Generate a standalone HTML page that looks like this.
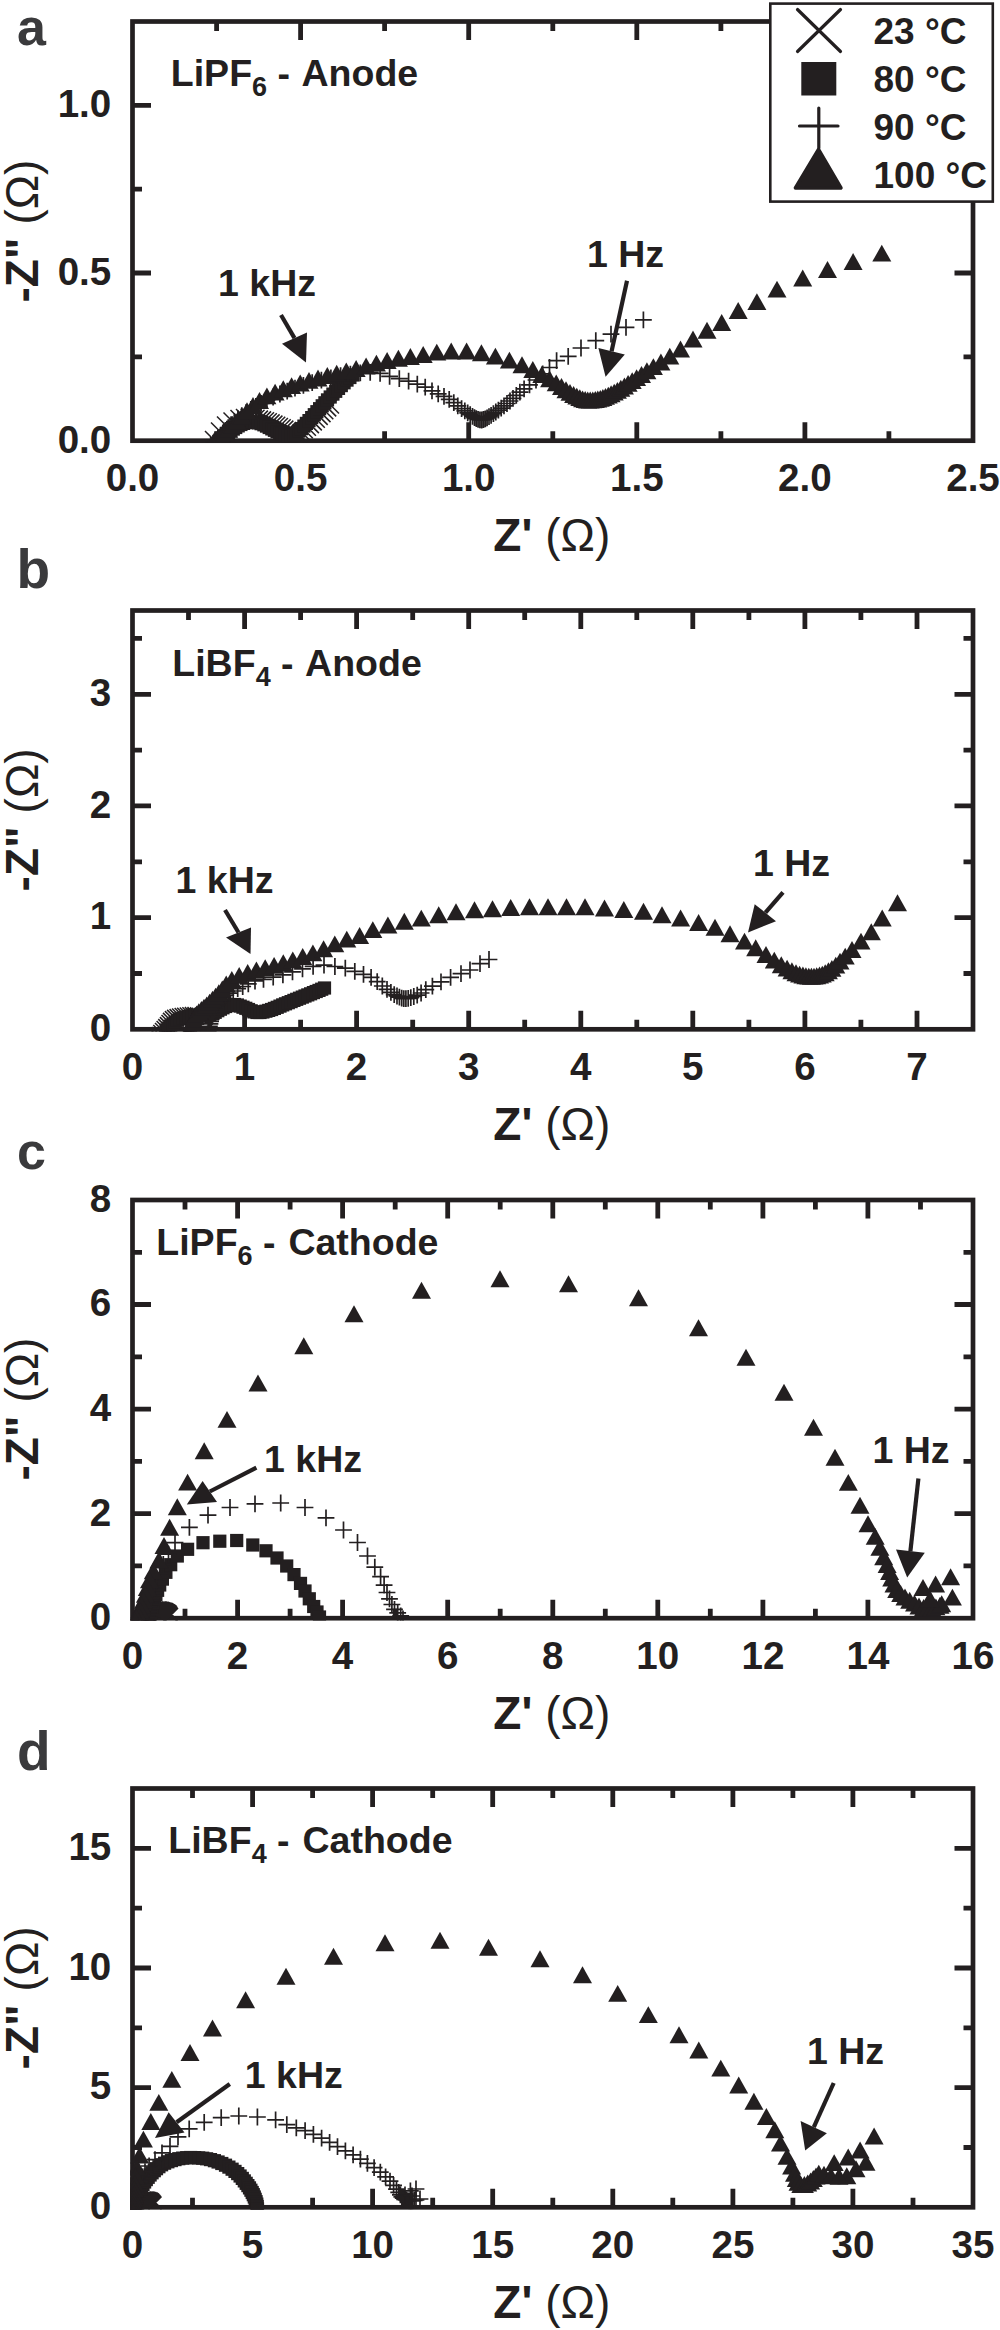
<!DOCTYPE html>
<html><head><meta charset="utf-8"><title>Figure</title>
<style>html,body{margin:0;padding:0;background:#fff}svg{display:block}</style></head>
<body><svg width="1000" height="2330" viewBox="0 0 1000 2330">
<rect width="1000" height="2330" fill="#fff"/>
<g fill="#231f20" font-family='"Liberation Sans", Arial, Helvetica, sans-serif'>
<defs><clipPath id="ca"><rect x="130.2" y="19.2" width="845.1" height="423.8"/></clipPath><clipPath id="cb"><rect x="130.2" y="608.2" width="845.1" height="423.4"/></clipPath><clipPath id="cc"><rect x="130.2" y="1197.7" width="845.1" height="422.80000000000007"/></clipPath><clipPath id="cd"><rect x="130.2" y="1786.2" width="845.1" height="423.4000000000002"/></clipPath></defs>
<text x="132.5" y="491" font-size="38.6" font-weight="bold" text-anchor="middle" >0.0</text>
<text x="300.6" y="491" font-size="38.6" font-weight="bold" text-anchor="middle" >0.5</text>
<text x="468.7" y="491" font-size="38.6" font-weight="bold" text-anchor="middle" >1.0</text>
<text x="636.8" y="491" font-size="38.6" font-weight="bold" text-anchor="middle" >1.5</text>
<text x="804.9" y="491" font-size="38.6" font-weight="bold" text-anchor="middle" >2.0</text>
<text x="973" y="491" font-size="38.6" font-weight="bold" text-anchor="middle" >2.5</text>
<text x="111.3" y="452.5" font-size="38.6" font-weight="bold" text-anchor="end" >0.0</text>
<text x="111.3" y="284.8" font-size="38.6" font-weight="bold" text-anchor="end" >0.5</text>
<text x="111.3" y="117.1" font-size="38.6" font-weight="bold" text-anchor="end" >1.0</text>
<path d="M216.6 440.7v-9.5M216.6 21.5v9.5M300.6 440.7v-18.5M300.6 21.5v18.5M384.6 440.7v-9.5M384.6 21.5v9.5M468.7 440.7v-18.5M468.7 21.5v18.5M552.8 440.7v-9.5M552.8 21.5v9.5M636.8 440.7v-18.5M636.8 21.5v18.5M720.9 440.7v-9.5M720.9 21.5v9.5M804.9 440.7v-18.5M804.9 21.5v18.5M888.9 440.7v-9.5M888.9 21.5v9.5M132.5 356.9h9.5M973 356.9h-9.5M132.5 273h18.5M973 273h-18.5M132.5 189.2h9.5M973 189.2h-9.5M132.5 105.3h18.5M973 105.3h-18.5" stroke="#231f20" stroke-width="4.8" fill="none"/>
<rect x="132.5" y="21.5" width="840.5" height="419.2" fill="none" stroke="#231f20" stroke-width="4.7"/>
<text x="551.8" y="551" font-size="46" text-anchor="middle" font-weight="bold">Z' <tspan font-weight="normal">(Ω)</tspan></text>
<text transform="translate(38 231.1) rotate(-90)" font-size="46" text-anchor="middle" font-weight="bold">-Z" <tspan font-weight="normal">(Ω)</tspan></text>
<text x="170.8" y="85.6" font-size="37.5" font-weight="bold" text-anchor="start" >LiPF<tspan font-size="27" dy="10">6</tspan><tspan dy="-10"> -</tspan><tspan dx="2.5"> Anode</tspan></text>
<text x="218" y="295.8" font-size="37.5" font-weight="bold" text-anchor="start" >1 kHz</text>
<text x="587" y="266.8" font-size="37.5" font-weight="bold" text-anchor="start" >1 Hz</text>
<g clip-path="url(#ca)">
<path d="M205 431l16 16M205 447l16 -16M211 422.5l16 16M211 438.5l16 -16M217 416.5l16 16M217 432.5l16 -16M223.5 412.5l16 16M223.5 428.5l16 -16M230.5 410l16 16M230.5 426l16 -16" fill="none" stroke="#231f20" stroke-width="1.5"/>
<path d="M236 409l16 16M236 425l16 -16M240.6 408.8l16 16M240.6 424.8l16 -16M244.8 409.1l16 16M244.8 425.1l16 -16M248.5 409.8l16 16M248.5 425.8l16 -16M251.9 410.6l16 16M251.9 426.6l16 -16M255 411.4l16 16M255 427.4l16 -16M258 412.3l16 16M258 428.3l16 -16M260.8 413.3l16 16M260.8 429.3l16 -16M263.6 414.4l16 16M263.6 430.4l16 -16M266.4 415.6l16 16M266.4 431.6l16 -16M269.2 416.8l16 16M269.2 432.8l16 -16M271.9 418l16 16M271.9 434l16 -16M274.7 419.3l16 16M274.7 435.3l16 -16M277.3 420.6l16 16M277.3 436.6l16 -16M280 422l16 16M280 438l16 -16M282.7 423.4l16 16M282.7 439.4l16 -16M285.4 424.6l16 16M285.4 440.6l16 -16M288.2 425.9l16 16M288.2 441.9l16 -16M291.1 426l16 16M291.1 442l16 -16M294 424.5l16 16M294 440.5l16 -16M296.8 422.3l16 16M296.8 438.3l16 -16M299.9 419.8l16 16M299.9 435.8l16 -16M302.9 417.1l16 16M302.9 433.1l16 -16M305.8 414.4l16 16M305.8 430.4l16 -16M308.8 411.7l16 16M308.8 427.7l16 -16M311.7 408.9l16 16M311.7 424.9l16 -16M314.5 406.1l16 16M314.5 422.1l16 -16M317.3 403.2l16 16M317.3 419.2l16 -16M320.2 400.4l16 16M320.2 416.4l16 -16M323 397.5l16 16M323 413.5l16 -16" fill="none" stroke="#231f20" stroke-width="1.5"/>
<rect x="213.4" y="434.4" width="13.2" height="13.2"/>
<rect x="215.5" y="432.3" width="13.2" height="13.2"/>
<rect x="217.6" y="430.2" width="13.2" height="13.2"/>
<rect x="219.8" y="428.1" width="13.2" height="13.2"/>
<rect x="221.9" y="426.1" width="13.2" height="13.2"/>
<rect x="224.2" y="424.3" width="13.2" height="13.2"/>
<rect x="226.7" y="422.5" width="13.2" height="13.2"/>
<rect x="229.1" y="420.9" width="13.2" height="13.2"/>
<rect x="231.6" y="419.3" width="13.2" height="13.2"/>
<rect x="234.3" y="417.9" width="13.2" height="13.2"/>
<rect x="237" y="416.8" width="13.2" height="13.2"/>
<rect x="239.9" y="416" width="13.2" height="13.2"/>
<rect x="242.8" y="415.5" width="13.2" height="13.2"/>
<rect x="245.8" y="415.4" width="13.2" height="13.2"/>
<rect x="248.7" y="415.7" width="13.2" height="13.2"/>
<rect x="251.7" y="416.3" width="13.2" height="13.2"/>
<rect x="254.5" y="417.1" width="13.2" height="13.2"/>
<rect x="257.3" y="418.2" width="13.2" height="13.2"/>
<rect x="259.9" y="419.5" width="13.2" height="13.2"/>
<rect x="262.6" y="420.9" width="13.2" height="13.2"/>
<rect x="265.2" y="422.3" width="13.2" height="13.2"/>
<rect x="267.8" y="423.7" width="13.2" height="13.2"/>
<rect x="270.4" y="425.1" width="13.2" height="13.2"/>
<rect x="273.1" y="426.4" width="13.2" height="13.2"/>
<rect x="275.8" y="427.5" width="13.2" height="13.2"/>
<rect x="278.6" y="428.5" width="13.2" height="13.2"/>
<rect x="281.5" y="429.3" width="13.2" height="13.2"/>
<rect x="284.4" y="429.5" width="13.2" height="13.2"/>
<rect x="287.3" y="428.7" width="13.2" height="13.2"/>
<rect x="289.8" y="426.8" width="13.2" height="13.2"/>
<rect x="292.2" y="424.5" width="13.2" height="13.2"/>
<rect x="294.8" y="422.1" width="13.2" height="13.2"/>
<rect x="297.3" y="419.5" width="13.2" height="13.2"/>
<rect x="299.8" y="416.8" width="13.2" height="13.2"/>
<rect x="302.4" y="414" width="13.2" height="13.2"/>
<rect x="305.1" y="411" width="13.2" height="13.2"/>
<rect x="307.7" y="408.1" width="13.2" height="13.2"/>
<rect x="310.3" y="405.1" width="13.2" height="13.2"/>
<rect x="313" y="402.1" width="13.2" height="13.2"/>
<rect x="315.6" y="399.2" width="13.2" height="13.2"/>
<rect x="318.3" y="396.2" width="13.2" height="13.2"/>
<rect x="320.9" y="393.3" width="13.2" height="13.2"/>
<rect x="323.6" y="390.4" width="13.2" height="13.2"/>
<rect x="326.3" y="387.5" width="13.2" height="13.2"/>
<rect x="329.1" y="384.7" width="13.2" height="13.2"/>
<rect x="331.9" y="381.8" width="13.2" height="13.2"/>
<rect x="334.7" y="379" width="13.2" height="13.2"/>
<rect x="337.5" y="376.2" width="13.2" height="13.2"/>
<rect x="340.4" y="373.5" width="13.2" height="13.2"/>
<rect x="343.3" y="370.9" width="13.2" height="13.2"/>
<rect x="346.4" y="368.4" width="13.2" height="13.2"/>
<path d="M205.6 442h16.8M214 433.6v16.8M207.7 439.9h16.8M216.1 431.5v16.8M209.8 437.8h16.8M218.2 429.4v16.8M212.1 435.5h16.8M220.5 427.1v16.8M214.4 433.1h16.8M222.8 424.7v16.8M217 430.4h16.8M225.4 422v16.8M219.8 427.6h16.8M228.2 419.2v16.8M222.7 424.7h16.8M231.1 416.3v16.8M226 421.7h16.8M234.4 413.3v16.8M229.5 418.7h16.8M237.9 410.3v16.8M233.4 415.6h16.8M241.8 407.2v16.8M237.7 412.6h16.8M246.1 404.2v16.8M242.4 409.5h16.8M250.8 401.1v16.8M247.4 406.4h16.8M255.8 398v16.8M252.7 403.3h16.8M261.1 394.9v16.8M258.5 400.1h16.8M266.9 391.7v16.8M264.7 397h16.8M273.1 388.6v16.8M271.5 394h16.8M279.9 385.6v16.8M278.8 391.1h16.8M287.2 382.7v16.8M286.6 388.2h16.8M295 379.8v16.8M295 385.4h16.8M303.4 377v16.8M303.8 382.7h16.8M312.2 374.3v16.8M313 380.1h16.8M321.4 371.7v16.8M322.5 377.8h16.8M330.9 369.4v16.8M332.2 375.7h16.8M340.6 367.3v16.8M342 374.1h16.8M350.4 365.7v16.8M351.9 372.9h16.8M360.3 364.5v16.8M361.8 372.4h16.8M370.2 364v16.8M371.7 373.4h16.8M380.1 365v16.8M381.2 376.4h16.8M389.6 368v16.8M390.9 378.6h16.8M399.3 370.2v16.8M400.2 381.2h16.8M408.6 372.8v16.8M408.9 384.1h16.8M417.3 375.7v16.8M416.8 387.2h16.8M425.2 378.8v16.8M423.6 390.9h16.8M432 382.5v16.8M429.8 393.8h16.8M438.2 385.4v16.8M435.6 396.4h16.8M444 388v16.8M440.8 399.4h16.8M449.2 391v16.8M445.4 402.6h16.8M453.8 394.2v16.8M449.4 405.9h16.8M457.8 397.5v16.8M453.2 408.6h16.8M461.6 400.2v16.8M456.4 410.9h16.8M464.8 402.5v16.8M459.3 412.9h16.8M467.7 404.5v16.8M461.8 414.7h16.8M470.2 406.3v16.8M464.1 416.3h16.8M472.5 407.9v16.8M466.1 417.6h16.8M474.5 409.2v16.8M467.9 418.7h16.8M476.3 410.3v16.8M469.7 419.4h16.8M478.1 411v16.8M471.5 419.9h16.8M479.9 411.5v16.8M473.3 420h16.8M481.7 411.6v16.8M475.1 419.5h16.8M483.5 411.1v16.8M476.9 418.8h16.8M485.3 410.4v16.8M478.7 417.9h16.8M487.1 409.5v16.8M480.6 416.7h16.8M489 408.3v16.8M482.7 415.3h16.8M491.1 406.9v16.8M485 413.7h16.8M493.4 405.3v16.8M487.4 412h16.8M495.8 403.6v16.8M490 410.2h16.8M498.4 401.8v16.8M492.8 408.1h16.8M501.2 399.7v16.8M495.6 405.9h16.8M504 397.5v16.8M498.6 403.5h16.8M507 395.1v16.8M501.6 401h16.8M510 392.6v16.8M504.6 398.3h16.8M513 389.9v16.8M507.9 395.3h16.8M516.3 386.9v16.8M511.5 392.1h16.8M519.9 383.7v16.8M515.7 388.8h16.8M524.1 380.4v16.8M521.1 384.9h16.8M529.5 376.5v16.8M527.6 380h16.8M536 371.6v16.8M534.3 373.8h16.8M542.7 365.4v16.8M541.1 367.5h16.8M549.5 359.1v16.8M548.2 360.7h16.8M556.6 352.3v16.8M559.8 356.4h16.8M568.2 348v16.8" fill="none" stroke="#231f20" stroke-width="1.7"/>
<path d="M572.6 348h16.8M581 339.6v16.8M587.4 340.6h16.8M595.8 332.2v16.8M602.6 334.2h16.8M611 325.8v16.8M617.6 327.4h16.8M626 319v16.8M635 319.8h16.8M643.4 311.4v16.8" fill="none" stroke="#231f20" stroke-width="1.7"/>
<path d="M209 439.3L218.5 456.2H199.5Z"/>
<path d="M211.1 437.2L220.6 454.1H201.6Z"/>
<path d="M213.2 435.1L222.7 452H203.7Z"/>
<path d="M215.6 432.9L225.1 449.8H206.1Z"/>
<path d="M218.4 430.4L227.9 447.3H208.9Z"/>
<path d="M221.5 427.6L231 444.5H212Z"/>
<path d="M224.9 424.4L234.4 441.3H215.4Z"/>
<path d="M228.6 420.8L238.1 437.7H219.1Z"/>
<path d="M232.7 416.9L242.2 433.8H223.2Z"/>
<path d="M237.2 412.6L246.7 429.5H227.7Z"/>
<path d="M242 407.7L251.5 424.6H232.5Z"/>
<path d="M247 402.3L256.5 419.2H237.5Z"/>
<path d="M253 397.1L262.5 414H243.5Z"/>
<path d="M259.5 392L269 408.9H250Z"/>
<path d="M266.9 387.4L276.4 404.3H257.4Z"/>
<path d="M275.1 383.7L284.6 400.6H265.6Z"/>
<path d="M283.3 380.3L292.8 397.2H273.8Z"/>
<path d="M291.6 377.2L301.1 394.1H282.1Z"/>
<path d="M300.2 374.5L309.7 391.4H290.7Z"/>
<path d="M309 371.9L318.5 388.8H299.5Z"/>
<path d="M318 369.5L327.5 386.4H308.5Z"/>
<path d="M327.3 367.1L336.8 384H317.8Z"/>
<path d="M336.7 364.8L346.2 381.7H327.2Z"/>
<path d="M346.3 362.4L355.8 379.3H336.8Z"/>
<path d="M356.1 360L365.6 376.9H346.6Z"/>
<path d="M366.1 357.5L375.6 374.4H356.6Z"/>
<path d="M376.4 354.7L385.9 371.6H366.9Z"/>
<path d="M387.1 352L396.6 368.9H377.6Z"/>
<path d="M398.4 349.8L407.9 366.7H388.9Z"/>
<path d="M410.4 348L419.9 364.9H400.9Z"/>
<path d="M423.2 346L432.7 362.9H413.7Z"/>
<path d="M436.8 343.7L446.3 360.6H427.3Z"/>
<path d="M451.2 342.5L460.7 359.4H441.7Z"/>
<path d="M466.6 342.5L476.1 359.4H457.1Z"/>
<path d="M481.4 344.3L490.9 361.2H471.9Z"/>
<path d="M495.4 347.7L504.9 364.6H485.9Z"/>
<path d="M509.4 351.7L518.9 368.6H499.9Z"/>
<path d="M522 356.3L531.5 373.2H512.5Z"/>
<path d="M532.8 361.1L542.3 378H523.3Z"/>
<path d="M541.8 366L551.3 382.9H532.3Z"/>
<path d="M549.6 370.4L559.1 387.3H540.1Z"/>
<path d="M556.2 374.4L565.7 391.3H546.7Z"/>
<path d="M561.5 378.1L571 395H552Z"/>
<path d="M566 381.3L575.5 398.2H556.5Z"/>
<path d="M570 383.9L579.5 400.8H560.5Z"/>
<path d="M573.6 386L583.1 402.9H564.1Z"/>
<path d="M576.8 387.7L586.3 404.6H567.3Z"/>
<path d="M579.8 389.2L589.3 406.1H570.3Z"/>
<path d="M582.6 390.4L592.1 407.3H573.1Z"/>
<path d="M585.2 391.1L594.7 408H575.7Z"/>
<path d="M587.7 391.5L597.2 408.4H578.2Z"/>
<path d="M590.2 391.6L599.7 408.5H580.7Z"/>
<path d="M592.8 391.4L602.3 408.3H583.3Z"/>
<path d="M595.3 391.1L604.8 408H585.8Z"/>
<path d="M597.8 390.6L607.3 407.5H588.3Z"/>
<path d="M600.3 389.9L609.8 406.8H590.8Z"/>
<path d="M602.9 389L612.4 405.9H593.4Z"/>
<path d="M605.5 387.9L615 404.8H596Z"/>
<path d="M608.3 386.7L617.8 403.6H598.8Z"/>
<path d="M611.1 385.3L620.6 402.2H601.6Z"/>
<path d="M614.2 383.7L623.7 400.6H604.7Z"/>
<path d="M617.4 381.9L626.9 398.8H607.9Z"/>
<path d="M620.8 379.8L630.3 396.7H611.3Z"/>
<path d="M624.4 377.5L633.9 394.4H614.9Z"/>
<path d="M628.1 374.9L637.6 391.8H618.6Z"/>
<path d="M632.2 372.2L641.7 389.1H622.7Z"/>
<path d="M636.6 369.2L646.1 386.1H627.1Z"/>
<path d="M641.5 366L651 382.9H632Z"/>
<path d="M646.9 362.3L656.4 379.2H637.4Z"/>
<path d="M653.4 358.2L662.9 375.1H643.9Z"/>
<path d="M660.9 353.6L670.4 370.5H651.4Z"/>
<path d="M669.8 347.7L679.3 364.6H660.3Z"/>
<path d="M680.5 340.5L690 357.4H671Z"/>
<path d="M693 330.6L702.5 347.5H683.5Z"/>
<path d="M707 321.8L716.5 338.7H697.5Z"/>
<path d="M721.7 314.1L731.2 331H712.2Z"/>
<path d="M738.2 302L747.7 318.9H728.7Z"/>
<path d="M756.9 293.2L766.4 310.1H747.4Z"/>
<path d="M777 280.7L786.5 297.6H767.5Z"/>
<path d="M802.7 269.5L812.2 286.4H793.2Z"/>
<path d="M827.5 261.1L837 278H818Z"/>
<path d="M853.1 253.1L862.6 270H843.6Z"/>
<path d="M881.8 244.7L891.3 261.6H872.3Z"/>
</g>
<path d="M281 315L294.5 338.1" stroke="#231f20" stroke-width="4.2" fill="none"/>
<path d="M306 362.5L282 343.7L307 332.5Z" fill="#231f20"/>
<path d="M627 280.8L611.6 351.3" stroke="#231f20" stroke-width="4.2" fill="none"/>
<path d="M605.6 376.8L598.4 348L624.8 354.6Z" fill="#231f20"/>
<rect x="770.3" y="3.6" width="222.5" height="198" fill="#fff" stroke="#231f20" stroke-width="2.6"/>
<path d="M797.5 9.5L840.5 51.5M797.5 51.5L840.5 9.5" stroke="#231f20" stroke-width="3.2" stroke-linecap="round" fill="none"/>
<rect x="801.3" y="62" width="35" height="33.5"/>
<path d="M799.5 126H838M818.8 108V148" stroke="#231f20" stroke-width="3.2" stroke-linecap="round" fill="none"/>
<path d="M818.5 149.5L841 188H795.4Z" stroke="#231f20" stroke-width="3.5" stroke-linejoin="round"/>
<text x="873.5" y="44.4" font-size="37" font-weight="bold" text-anchor="start" >23 °C</text>
<text x="873.5" y="92.4" font-size="37" font-weight="bold" text-anchor="start" >80 °C</text>
<text x="873.5" y="140.4" font-size="37" font-weight="bold" text-anchor="start" >90 °C</text>
<text x="873.5" y="188.4" font-size="37" font-weight="bold" text-anchor="start" >100 °C</text>
<text x="132.5" y="1079.6" font-size="38.6" font-weight="bold" text-anchor="middle" >0</text>
<text x="244.6" y="1079.6" font-size="38.6" font-weight="bold" text-anchor="middle" >1</text>
<text x="356.6" y="1079.6" font-size="38.6" font-weight="bold" text-anchor="middle" >2</text>
<text x="468.7" y="1079.6" font-size="38.6" font-weight="bold" text-anchor="middle" >3</text>
<text x="580.8" y="1079.6" font-size="38.6" font-weight="bold" text-anchor="middle" >4</text>
<text x="692.8" y="1079.6" font-size="38.6" font-weight="bold" text-anchor="middle" >5</text>
<text x="804.9" y="1079.6" font-size="38.6" font-weight="bold" text-anchor="middle" >6</text>
<text x="917" y="1079.6" font-size="38.6" font-weight="bold" text-anchor="middle" >7</text>
<text x="111.3" y="1041.1" font-size="38.6" font-weight="bold" text-anchor="end" >0</text>
<text x="111.3" y="929.4" font-size="38.6" font-weight="bold" text-anchor="end" >1</text>
<text x="111.3" y="817.7" font-size="38.6" font-weight="bold" text-anchor="end" >2</text>
<text x="111.3" y="706.1" font-size="38.6" font-weight="bold" text-anchor="end" >3</text>
<path d="M188.5 1029.3v-9.5M188.5 610.5v9.5M244.6 1029.3v-18.5M244.6 610.5v18.5M300.6 1029.3v-9.5M300.6 610.5v9.5M356.6 1029.3v-18.5M356.6 610.5v18.5M412.7 1029.3v-9.5M412.7 610.5v9.5M468.7 1029.3v-18.5M468.7 610.5v18.5M524.7 1029.3v-9.5M524.7 610.5v9.5M580.8 1029.3v-18.5M580.8 610.5v18.5M636.8 1029.3v-9.5M636.8 610.5v9.5M692.8 1029.3v-18.5M692.8 610.5v18.5M748.9 1029.3v-9.5M748.9 610.5v9.5M804.9 1029.3v-18.5M804.9 610.5v18.5M860.9 1029.3v-9.5M860.9 610.5v9.5M917 1029.3v-18.5M917 610.5v18.5M132.5 973.5h9.5M973 973.5h-9.5M132.5 917.6h18.5M973 917.6h-18.5M132.5 861.8h9.5M973 861.8h-9.5M132.5 805.9h18.5M973 805.9h-18.5M132.5 750.1h9.5M973 750.1h-9.5M132.5 694.3h18.5M973 694.3h-18.5M132.5 638.4h9.5M973 638.4h-9.5" stroke="#231f20" stroke-width="4.8" fill="none"/>
<rect x="132.5" y="610.5" width="840.5" height="418.8" fill="none" stroke="#231f20" stroke-width="4.7"/>
<text x="551.8" y="1139.6" font-size="46" text-anchor="middle" font-weight="bold">Z' <tspan font-weight="normal">(Ω)</tspan></text>
<text transform="translate(38 819.9) rotate(-90)" font-size="46" text-anchor="middle" font-weight="bold">-Z" <tspan font-weight="normal">(Ω)</tspan></text>
<text x="172.3" y="675.6" font-size="37.5" font-weight="bold" text-anchor="start" >LiBF<tspan font-size="27" dy="10">4</tspan><tspan dy="-10"> -</tspan><tspan dx="2.5"> Anode</tspan></text>
<text x="175.5" y="893.2" font-size="37.5" font-weight="bold" text-anchor="start" >1 kHz</text>
<text x="753" y="875.7" font-size="37.5" font-weight="bold" text-anchor="start" >1 Hz</text>
<g clip-path="url(#cb)">
<path d="M150 1029l16 16M150 1045l16 -16M151.7 1027l16 16M151.7 1043l16 -16M153.3 1025l16 16M153.3 1041l16 -16M155 1023l16 16M155 1039l16 -16M156.6 1021l16 16M156.6 1037l16 -16M158.3 1019.1l16 16M158.3 1035.1l16 -16M159.9 1017.1l16 16M159.9 1033.1l16 -16M161.5 1015l16 16M161.5 1031l16 -16M163 1012.9l16 16M163 1028.9l16 -16M164.9 1011.1l16 16M164.9 1027.1l16 -16M167.1 1009.9l16 16M167.1 1025.9l16 -16M169.6 1009.1l16 16M169.6 1025.1l16 -16M172.1 1008.5l16 16M172.1 1024.5l16 -16M174.7 1008l16 16M174.7 1024l16 -16M177.2 1007.7l16 16M177.2 1023.7l16 -16M179.8 1007.5l16 16M179.8 1023.5l16 -16M182.4 1007.2l16 16M182.4 1023.2l16 -16M184.9 1007l16 16M184.9 1023l16 -16M187.5 1007l16 16M187.5 1023l16 -16M190.1 1007.4l16 16M190.1 1023.4l16 -16M192.6 1008.2l16 16M192.6 1024.2l16 -16M195 1009l16 16M195 1025l16 -16" fill="none" stroke="#231f20" stroke-width="1.5"/>
<rect x="159.4" y="1023.4" width="13.2" height="13.2"/>
<rect x="161.7" y="1021.5" width="13.2" height="13.2"/>
<rect x="164" y="1019.5" width="13.2" height="13.2"/>
<rect x="166.3" y="1017.6" width="13.2" height="13.2"/>
<rect x="168.5" y="1015.6" width="13.2" height="13.2"/>
<rect x="170.9" y="1013.7" width="13.2" height="13.2"/>
<rect x="173.5" y="1012.3" width="13.2" height="13.2"/>
<rect x="176.4" y="1011.5" width="13.2" height="13.2"/>
<rect x="179.4" y="1010.8" width="13.2" height="13.2"/>
<rect x="182.3" y="1010.3" width="13.2" height="13.2"/>
<rect x="185.3" y="1009.9" width="13.2" height="13.2"/>
<rect x="188.3" y="1009.4" width="13.2" height="13.2"/>
<rect x="191.2" y="1009" width="13.2" height="13.2"/>
<rect x="194.2" y="1008.7" width="13.2" height="13.2"/>
<rect x="197.2" y="1008.5" width="13.2" height="13.2"/>
<rect x="200.2" y="1008.3" width="13.2" height="13.2"/>
<rect x="203.2" y="1008.2" width="13.2" height="13.2"/>
<rect x="206" y="1007.2" width="13.2" height="13.2"/>
<rect x="208.6" y="1005.7" width="13.2" height="13.2"/>
<rect x="211.2" y="1004.1" width="13.2" height="13.2"/>
<rect x="213.8" y="1002.6" width="13.2" height="13.2"/>
<rect x="216.4" y="1001.2" width="13.2" height="13.2"/>
<rect x="219.1" y="999.9" width="13.2" height="13.2"/>
<rect x="222" y="998.9" width="13.2" height="13.2"/>
<rect x="224.9" y="998.1" width="13.2" height="13.2"/>
<rect x="227.8" y="997.9" width="13.2" height="13.2"/>
<rect x="230.8" y="998.4" width="13.2" height="13.2"/>
<rect x="233.6" y="999.5" width="13.2" height="13.2"/>
<rect x="236.4" y="1000.6" width="13.2" height="13.2"/>
<rect x="239.2" y="1001.7" width="13.2" height="13.2"/>
<rect x="241.9" y="1002.9" width="13.2" height="13.2"/>
<rect x="244.6" y="1004.2" width="13.2" height="13.2"/>
<rect x="247.4" y="1005.3" width="13.2" height="13.2"/>
<rect x="250.4" y="1005.9" width="13.2" height="13.2"/>
<rect x="253.4" y="1005.9" width="13.2" height="13.2"/>
<rect x="256.3" y="1005.4" width="13.2" height="13.2"/>
<rect x="259.3" y="1004.6" width="13.2" height="13.2"/>
<rect x="262.1" y="1003.8" width="13.2" height="13.2"/>
<rect x="265" y="1002.9" width="13.2" height="13.2"/>
<rect x="267.8" y="1001.8" width="13.2" height="13.2"/>
<rect x="270.6" y="1000.7" width="13.2" height="13.2"/>
<rect x="273.4" y="999.5" width="13.2" height="13.2"/>
<rect x="276.1" y="998.3" width="13.2" height="13.2"/>
<rect x="278.9" y="997.2" width="13.2" height="13.2"/>
<rect x="281.7" y="996.1" width="13.2" height="13.2"/>
<rect x="284.5" y="995" width="13.2" height="13.2"/>
<rect x="287.3" y="993.8" width="13.2" height="13.2"/>
<rect x="290.1" y="992.7" width="13.2" height="13.2"/>
<rect x="292.9" y="991.6" width="13.2" height="13.2"/>
<rect x="295.7" y="990.5" width="13.2" height="13.2"/>
<rect x="298.4" y="989.4" width="13.2" height="13.2"/>
<rect x="301.2" y="988.3" width="13.2" height="13.2"/>
<rect x="304" y="987.2" width="13.2" height="13.2"/>
<rect x="306.8" y="986" width="13.2" height="13.2"/>
<rect x="309.6" y="984.9" width="13.2" height="13.2"/>
<rect x="312.4" y="983.8" width="13.2" height="13.2"/>
<rect x="315.1" y="982.6" width="13.2" height="13.2"/>
<rect x="317.9" y="981.4" width="13.2" height="13.2"/>
<path d="M198.6 1036h16.8M207 1027.6v16.8M199.2 1033.6h16.8M207.6 1025.2v16.8M199.8 1031.1h16.8M208.2 1022.7v16.8M200.4 1028.7h16.8M208.8 1020.3v16.8M201 1026.3h16.8M209.4 1017.9v16.8M201.6 1023.9h16.8M210 1015.5v16.8M202.2 1021.4h16.8M210.6 1013v16.8M202.9 1019h16.8M211.3 1010.6v16.8M203.6 1016.6h16.8M212 1008.2v16.8M204.4 1014.3h16.8M212.8 1005.9v16.8M205.2 1011.9h16.8M213.6 1003.5v16.8M206.2 1009.6h16.8M214.6 1001.2v16.8M207.3 1007.1h16.8M215.7 998.7v16.8M208.6 1004.6h16.8M217 996.2v16.8M210.2 1002.1h16.8M218.6 993.7v16.8M212.1 999.7h16.8M220.5 991.3v16.8M214.5 997.3h16.8M222.9 988.9v16.8M217.4 995.2h16.8M225.8 986.8v16.8M220.9 993.1h16.8M229.3 984.7v16.8M224.8 991h16.8M233.2 982.6v16.8M229.3 988.7h16.8M237.7 980.3v16.8M234.3 986.5h16.8M242.7 978.1v16.8M239.9 983.9h16.8M248.3 975.5v16.8M246.6 981h16.8M255 972.6v16.8M255.1 979.4h16.8M263.5 971v16.8M264.8 977.2h16.8M273.2 968.8v16.8M274.5 974.8h16.8M282.9 966.4v16.8M284.1 971.8h16.8M292.5 963.4v16.8M294.1 968.8h16.8M302.5 960.4v16.8M304.7 966.4h16.8M313.1 958v16.8M315.6 965.1h16.8M324 956.7v16.8M326.5 966.5h16.8M334.9 958.1v16.8M336.9 968.1h16.8M345.3 959.7v16.8M346.4 971.4h16.8M354.8 963v16.8M355.1 974.4h16.8M363.5 966v16.8M362.7 977.3h16.8M371.1 968.9v16.8M368.8 981.7h16.8M377.2 973.3v16.8M373.9 986h16.8M382.3 977.6v16.8M378.6 989.4h16.8M387 981v16.8M382.5 992.4h16.8M390.9 984v16.8M385.8 994.6h16.8M394.2 986.2v16.8M388.6 996h16.8M397 987.6v16.8M391 997.2h16.8M399.4 988.8v16.8M393.3 998.2h16.8M401.7 989.8v16.8M395.4 998.6h16.8M403.8 990.2v16.8M397.5 998.6h16.8M405.9 990.2v16.8M399.8 998.3h16.8M408.2 989.9v16.8M402.4 997.6h16.8M410.8 989.2v16.8M405.4 996.5h16.8M413.8 988.1v16.8M408.8 995.1h16.8M417.2 986.7v16.8M412.7 993h16.8M421.1 984.6v16.8M417.4 989.7h16.8M425.8 981.3v16.8M424 986.2h16.8M432.4 977.8v16.8M432.6 981.9h16.8M441 973.5v16.8M442.2 977.3h16.8M450.6 968.9v16.8M452.6 973.7h16.8M461 965.3v16.8" fill="none" stroke="#231f20" stroke-width="1.7"/>
<path d="M461.6 970h16.8M470 961.6v16.8M471.6 963.7h16.8M480 955.3v16.8M480.6 959.5h16.8M489 951.1v16.8" fill="none" stroke="#231f20" stroke-width="1.7"/>
<path d="M186 1030.3L195.5 1047.2H176.5Z"/>
<path d="M187 1027.5L196.5 1044.4H177.5Z"/>
<path d="M188 1024.6L197.5 1041.5H178.5Z"/>
<path d="M189 1021.8L198.5 1038.7H179.5Z"/>
<path d="M190.1 1019L199.6 1035.9H180.6Z"/>
<path d="M191.3 1016.2L200.8 1033.1H181.8Z"/>
<path d="M192.4 1013.4L201.9 1030.3H182.9Z"/>
<path d="M193.6 1010.7L203.1 1027.6H184.1Z"/>
<path d="M195 1008L204.5 1024.9H185.5Z"/>
<path d="M196.6 1005.4L206.1 1022.3H187.1Z"/>
<path d="M198.8 1003.2L208.3 1020.1H189.3Z"/>
<path d="M201.4 1001.1L210.9 1018H191.9Z"/>
<path d="M204 998.8L213.5 1015.7H194.5Z"/>
<path d="M206.7 996.4L216.2 1013.3H197.2Z"/>
<path d="M209.6 993.7L219.1 1010.6H200.1Z"/>
<path d="M212.5 990.8L222 1007.7H203Z"/>
<path d="M215.6 987.7L225.1 1004.6H206.1Z"/>
<path d="M218.8 984.3L228.3 1001.2H209.3Z"/>
<path d="M222.3 980.4L231.8 997.3H212.8Z"/>
<path d="M226.2 975.6L235.7 992.5H216.7Z"/>
<path d="M231.8 971L241.3 987.9H222.3Z"/>
<path d="M239.2 966.9L248.7 983.8H229.7Z"/>
<path d="M247.7 964L257.2 980.9H238.2Z"/>
<path d="M256.4 961.6L265.9 978.5H246.9Z"/>
<path d="M265.2 959.2L274.7 976.1H255.7Z"/>
<path d="M274.1 956.9L283.6 973.8H264.6Z"/>
<path d="M283.3 954.3L292.8 971.2H273.8Z"/>
<path d="M292.8 951.4L302.3 968.3H283.3Z"/>
<path d="M302.7 948.1L312.2 965H293.2Z"/>
<path d="M312.9 944.4L322.4 961.3H303.4Z"/>
<path d="M323.6 940.3L333.1 957.2H314.1Z"/>
<path d="M334.8 935.4L344.3 952.3H325.3Z"/>
<path d="M346.8 930.7L356.3 947.6H337.3Z"/>
<path d="M359.6 927L369.1 943.9H350.1Z"/>
<path d="M372.8 921.2L382.3 938.1H363.3Z"/>
<path d="M387.9 916.5L397.4 933.4H378.4Z"/>
<path d="M404.3 912.8L413.8 929.7H394.8Z"/>
<path d="M421.3 909.7L430.8 926.6H411.8Z"/>
<path d="M438.7 906.3L448.2 923.2H429.2Z"/>
<path d="M456 903.3L465.5 920.2H446.5Z"/>
<path d="M474.5 901.3L484 918.2H465Z"/>
<path d="M492.5 900.3L502 917.2H483Z"/>
<path d="M510.7 899L520.2 915.9H501.2Z"/>
<path d="M529.5 898.3L539 915.2H520Z"/>
<path d="M548 898.3L557.5 915.2H538.5Z"/>
<path d="M566.5 898.3L576 915.2H557Z"/>
<path d="M585 898.3L594.5 915.2H575.5Z"/>
<path d="M604.5 899.6L614 916.5H595Z"/>
<path d="M623.8 901.1L633.3 918H614.3Z"/>
<path d="M643.5 902.8L653 919.7H634Z"/>
<path d="M662 906.3L671.5 923.2H652.5Z"/>
<path d="M680.6 909.6L690.1 926.5H671.1Z"/>
<path d="M698.6 914L708.1 930.9H689.1Z"/>
<path d="M715 918.8L724.5 935.7H705.5Z"/>
<path d="M730 925.3L739.5 942.2H720.5Z"/>
<path d="M744.5 932.7L754 949.6H735Z"/>
<path d="M755.7 939.3L765.2 956.2H746.2Z"/>
<path d="M766 946L775.5 962.9H756.5Z"/>
<path d="M774.3 951.7L783.8 968.6H764.8Z"/>
<path d="M781.3 956.3L790.8 973.2H771.8Z"/>
<path d="M787.1 959.7L796.6 976.6H777.6Z"/>
<path d="M791.9 962.3L801.4 979.2H782.4Z"/>
<path d="M796 964.3L805.5 981.2H786.5Z"/>
<path d="M799.6 965.7L809.1 982.6H790.1Z"/>
<path d="M802.9 966.6L812.4 983.5H793.4Z"/>
<path d="M805.9 967.3L815.4 984.2H796.4Z"/>
<path d="M808.8 967.7L818.3 984.6H799.3Z"/>
<path d="M811.4 967.8L820.9 984.7H801.9Z"/>
<path d="M814 967.7L823.5 984.6H804.5Z"/>
<path d="M816.7 967.3L826.2 984.2H807.2Z"/>
<path d="M819.5 966.6L829 983.5H810Z"/>
<path d="M822.3 965.7L831.8 982.6H812.8Z"/>
<path d="M825.2 964.3L834.7 981.2H815.7Z"/>
<path d="M828.4 962.3L837.9 979.2H818.9Z"/>
<path d="M831.9 959.9L841.4 976.8H822.4Z"/>
<path d="M835.8 956.7L845.3 973.6H826.3Z"/>
<path d="M840 952.7L849.5 969.6H830.5Z"/>
<path d="M845.2 947.7L854.7 964.6H835.7Z"/>
<path d="M852 941L861.5 957.9H842.5Z"/>
<path d="M861 932.7L870.5 949.6H851.5Z"/>
<path d="M871.3 923.3L880.8 940.2H861.8Z"/>
<path d="M882.2 909.6L891.7 926.5H872.7Z"/>
<path d="M897.5 894.3L907 911.2H888Z"/>
</g>
<path d="M225 910L238.5 932.5" stroke="#231f20" stroke-width="4.2" fill="none"/>
<path d="M250.5 954L226 937.5L251 927.5Z" fill="#231f20"/>
<path d="M783 892.3L765.4 912.7" stroke="#231f20" stroke-width="4.2" fill="none"/>
<path d="M748 932.4L754.7 904.2L776 921.2Z" fill="#231f20"/>
<text x="132.5" y="1668.5" font-size="38.6" font-weight="bold" text-anchor="middle" >0</text>
<text x="237.6" y="1668.5" font-size="38.6" font-weight="bold" text-anchor="middle" >2</text>
<text x="342.6" y="1668.5" font-size="38.6" font-weight="bold" text-anchor="middle" >4</text>
<text x="447.7" y="1668.5" font-size="38.6" font-weight="bold" text-anchor="middle" >6</text>
<text x="552.8" y="1668.5" font-size="38.6" font-weight="bold" text-anchor="middle" >8</text>
<text x="657.8" y="1668.5" font-size="38.6" font-weight="bold" text-anchor="middle" >10</text>
<text x="762.9" y="1668.5" font-size="38.6" font-weight="bold" text-anchor="middle" >12</text>
<text x="867.9" y="1668.5" font-size="38.6" font-weight="bold" text-anchor="middle" >14</text>
<text x="973" y="1668.5" font-size="38.6" font-weight="bold" text-anchor="middle" >16</text>
<text x="111.3" y="1630" font-size="38.6" font-weight="bold" text-anchor="end" >0</text>
<text x="111.3" y="1525.5" font-size="38.6" font-weight="bold" text-anchor="end" >2</text>
<text x="111.3" y="1420.9" font-size="38.6" font-weight="bold" text-anchor="end" >4</text>
<text x="111.3" y="1316.3" font-size="38.6" font-weight="bold" text-anchor="end" >6</text>
<text x="111.3" y="1211.8" font-size="38.6" font-weight="bold" text-anchor="end" >8</text>
<path d="M185 1618.2v-9.5M185 1200v9.5M237.6 1618.2v-18.5M237.6 1200v18.5M290.1 1618.2v-9.5M290.1 1200v9.5M342.6 1618.2v-18.5M342.6 1200v18.5M395.2 1618.2v-9.5M395.2 1200v9.5M447.7 1618.2v-18.5M447.7 1200v18.5M500.2 1618.2v-9.5M500.2 1200v9.5M552.8 1618.2v-18.5M552.8 1200v18.5M605.3 1618.2v-9.5M605.3 1200v9.5M657.8 1618.2v-18.5M657.8 1200v18.5M710.3 1618.2v-9.5M710.3 1200v9.5M762.9 1618.2v-18.5M762.9 1200v18.5M815.4 1618.2v-9.5M815.4 1200v9.5M867.9 1618.2v-18.5M867.9 1200v18.5M920.5 1618.2v-9.5M920.5 1200v9.5M132.5 1565.9h9.5M973 1565.9h-9.5M132.5 1513.7h18.5M973 1513.7h-18.5M132.5 1461.4h9.5M973 1461.4h-9.5M132.5 1409.1h18.5M973 1409.1h-18.5M132.5 1356.8h9.5M973 1356.8h-9.5M132.5 1304.5h18.5M973 1304.5h-18.5M132.5 1252.3h9.5M973 1252.3h-9.5" stroke="#231f20" stroke-width="4.8" fill="none"/>
<rect x="132.5" y="1200" width="840.5" height="418.2" fill="none" stroke="#231f20" stroke-width="4.7"/>
<text x="551.8" y="1728.5" font-size="46" text-anchor="middle" font-weight="bold">Z' <tspan font-weight="normal">(Ω)</tspan></text>
<text transform="translate(38 1409.1) rotate(-90)" font-size="46" text-anchor="middle" font-weight="bold">-Z" <tspan font-weight="normal">(Ω)</tspan></text>
<text x="156.3" y="1254.6" font-size="37.5" font-weight="bold" text-anchor="start" >LiPF<tspan font-size="27" dy="10">6</tspan><tspan dy="-10"> -</tspan><tspan dx="2.5"> Cathode</tspan></text>
<text x="264" y="1471.7" font-size="37.5" font-weight="bold" text-anchor="start" >1 kHz</text>
<text x="872.4" y="1463" font-size="37.5" font-weight="bold" text-anchor="start" >1 Hz</text>
<g clip-path="url(#cc)">
<path d="M141 1607l14 14M141 1621l14 -14M141.9 1605.9l14 14M141.9 1619.9l14 -14M142.9 1604.8l14 14M142.9 1618.8l14 -14M143.9 1603.8l14 14M143.9 1617.8l14 -14M145.1 1603l14 14M145.1 1617l14 -14M146.4 1602.4l14 14M146.4 1616.4l14 -14M147.7 1602l14 14M147.7 1616l14 -14M149.1 1601.7l14 14M149.1 1615.7l14 -14M150.6 1601.5l14 14M150.6 1615.5l14 -14M152 1601.5l14 14M152 1615.5l14 -14M153.4 1601.6l14 14M153.4 1615.6l14 -14M154.8 1601.9l14 14M154.8 1615.9l14 -14M156.2 1602.3l14 14M156.2 1616.3l14 -14M157.6 1602.7l14 14M157.6 1616.7l14 -14M158.9 1603.2l14 14M158.9 1617.2l14 -14M160.2 1603.9l14 14M160.2 1617.9l14 -14M161.5 1604.6l14 14M161.5 1618.6l14 -14M162.6 1605.5l14 14M162.6 1619.5l14 -14M163.3 1606.7l14 14M163.3 1620.7l14 -14M164 1608l14 14M164 1622l14 -14" fill="none" stroke="#231f20" stroke-width="1.7"/>
<rect x="142.4" y="1615.4" width="13.2" height="13.2"/>
<rect x="143" y="1612.4" width="13.2" height="13.2"/>
<rect x="143.6" y="1609.5" width="13.2" height="13.2"/>
<rect x="144.2" y="1606.5" width="13.2" height="13.2"/>
<rect x="144.8" y="1603.5" width="13.2" height="13.2"/>
<rect x="145.6" y="1600.2" width="13.2" height="13.2"/>
<rect x="146.6" y="1596.6" width="13.2" height="13.2"/>
<rect x="147.8" y="1592.7" width="13.2" height="13.2"/>
<rect x="149.3" y="1588.4" width="13.2" height="13.2"/>
<rect x="151" y="1583.7" width="13.2" height="13.2"/>
<rect x="153.1" y="1578.4" width="13.2" height="13.2"/>
<rect x="155.8" y="1572.5" width="13.2" height="13.2"/>
<rect x="159.3" y="1565.7" width="13.2" height="13.2"/>
<rect x="164.1" y="1558.1" width="13.2" height="13.2"/>
<rect x="170.7" y="1549.4" width="13.2" height="13.2"/>
<rect x="181" y="1542.7" width="13.2" height="13.2"/>
<rect x="196.4" y="1536.1" width="13.2" height="13.2"/>
<rect x="213.2" y="1534.6" width="13.2" height="13.2"/>
<rect x="230.1" y="1533.9" width="13.2" height="13.2"/>
<rect x="246.2" y="1538.4" width="13.2" height="13.2"/>
<rect x="259.4" y="1544.2" width="13.2" height="13.2"/>
<rect x="270.4" y="1551.4" width="13.2" height="13.2"/>
<rect x="280.1" y="1559.4" width="13.2" height="13.2"/>
<rect x="287.4" y="1568" width="13.2" height="13.2"/>
<rect x="293.9" y="1576.8" width="13.2" height="13.2"/>
<rect x="298.4" y="1584.4" width="13.2" height="13.2"/>
<rect x="302.7" y="1592.2" width="13.2" height="13.2"/>
<rect x="307.1" y="1599.9" width="13.2" height="13.2"/>
<rect x="310.4" y="1605.4" width="13.2" height="13.2"/>
<rect x="312.9" y="1610.4" width="13.2" height="13.2"/>
<path d="M137.6 1622h16.8M146 1613.6v16.8M138.2 1619h16.8M146.6 1610.6v16.8M138.8 1616h16.8M147.2 1607.6v16.8M139.4 1613h16.8M147.8 1604.6v16.8M140.1 1610h16.8M148.5 1601.6v16.8M140.9 1606.6h16.8M149.3 1598.2v16.8M141.8 1603h16.8M150.2 1594.6v16.8M142.9 1598.8h16.8M151.3 1590.4v16.8M144.3 1593.9h16.8M152.7 1585.5v16.8M146 1588h16.8M154.4 1579.6v16.8M148.3 1581.2h16.8M156.7 1572.8v16.8M151.2 1573.3h16.8M159.6 1564.9v16.8M154.9 1564.3h16.8M163.3 1555.9v16.8M160.1 1554.2h16.8M168.5 1545.8v16.8M166.6 1542.7h16.8M175 1534.3v16.8" fill="none" stroke="#231f20" stroke-width="1.7"/>
<path d="M181 1527.3h16.8M189.4 1518.9v16.8M199.6 1515.2h16.8M208 1506.8v16.8M221.6 1507.5h16.8M230 1499.1v16.8M246.6 1503.8h16.8M255 1495.4v16.8M272.3 1503h16.8M280.7 1494.6v16.8M296.6 1507.5h16.8M305 1499.1v16.8M317.6 1517.8h16.8M326 1509.4v16.8M335.1 1530h16.8M343.5 1521.6v16.8M349.1 1542.5h16.8M357.5 1534.1v16.8" fill="none" stroke="#231f20" stroke-width="1.7"/>
<path d="M359.1 1556h16.8M367.5 1547.6v16.8M366.4 1567.2h16.8M374.8 1558.8v16.8M372.2 1576.7h16.8M380.6 1568.3v16.8M375.7 1585.2h16.8M384.1 1576.8v16.8M378.6 1592.5h16.8M387 1584.1v16.8M381.1 1598.9h16.8M389.5 1590.5v16.8M383.5 1604.5h16.8M391.9 1596.1v16.8M386.1 1609.3h16.8M394.5 1600.9v16.8M389.3 1612.8h16.8M397.7 1604.4v16.8M392.3 1615.8h16.8M400.7 1607.4v16.8M394.6 1619h16.8M403 1610.6v16.8" fill="none" stroke="#231f20" stroke-width="1.7"/>
<path d="M158.9 1551.6L168.4 1568.5H149.4Z"/>
<path d="M153.3 1562.4L162.8 1579.3H143.8Z"/>
<path d="M149.5 1571.4L159 1588.3H140Z"/>
<path d="M147.3 1579.2L156.8 1596.1H137.8Z"/>
<path d="M145.4 1585.9L154.9 1602.8H135.9Z"/>
<path d="M143.5 1591.8L153 1608.7H134Z"/>
<path d="M141.6 1596.9L151.1 1613.8H132.1Z"/>
<path d="M139.8 1601.4L149.3 1618.3H130.3Z"/>
<path d="M138.1 1605.6L147.6 1622.5H128.6Z"/>
<path d="M136.6 1609.4L146.1 1626.3H127.1Z"/>
<path d="M135.5 1613.3L145 1630.2H126Z"/>
<path d="M164 1537.1L173.5 1554H154.5Z"/>
<path d="M169.6 1518.8L179.1 1535.7H160.1Z"/>
<path d="M177.3 1498.3L186.8 1515.2H167.8Z"/>
<path d="M187.6 1473.7L197.1 1490.6H178.1Z"/>
<path d="M204.2 1442.3L213.7 1459.2H194.7Z"/>
<path d="M227 1410.9L236.5 1427.8H217.5Z"/>
<path d="M258 1374.5L267.5 1391.4H248.5Z"/>
<path d="M303.8 1337.3L313.3 1354.2H294.3Z"/>
<path d="M354 1305.3L363.5 1322.2H344.5Z"/>
<path d="M421.5 1281.8L431 1298.7H412Z"/>
<path d="M500 1270.3L509.5 1287.2H490.5Z"/>
<path d="M568.5 1275.3L578 1292.2H559Z"/>
<path d="M638.5 1289.3L648 1306.2H629Z"/>
<path d="M698.5 1319.3L708 1336.2H689Z"/>
<path d="M746 1348.8L755.5 1365.7H736.5Z"/>
<path d="M784 1383.8L793.5 1400.7H774.5Z"/>
<path d="M813.5 1418.8L823 1435.7H804Z"/>
<path d="M835 1448.8L844.5 1465.7H825.5Z"/>
<path d="M848.3 1473.9L857.8 1490.8H838.8Z"/>
<path d="M860 1496.8L869.5 1513.7H850.5Z"/>
<path d="M868 1515.3L877.5 1532.2H858.5Z"/>
<path d="M875.2 1527.9L884.7 1544.8H865.7Z"/>
<path d="M879.9 1538.9L889.4 1555.8H870.4Z"/>
<path d="M883.7 1548.3L893.2 1565.2H874.2Z"/>
<path d="M887.1 1556L896.6 1572.9H877.6Z"/>
<path d="M889.6 1563L899.1 1579.9H880.1Z"/>
<path d="M891.7 1569.5L901.2 1586.4H882.2Z"/>
<path d="M894 1575.6L903.5 1592.5H884.5Z"/>
<path d="M896.7 1581.1L906.2 1598H887.2Z"/>
<path d="M900.7 1585.1L910.2 1602H891.2Z"/>
<path d="M905 1588.6L914.5 1605.5H895.5Z"/>
<path d="M909.7 1591.8L919.2 1608.7H900.2Z"/>
<path d="M914.5 1594.7L924 1611.6H905Z"/>
<path d="M919 1597.5L928.5 1614.4H909.5Z"/>
<path d="M923.6 1599L933.1 1615.9H914.1Z"/>
<path d="M927.8 1599.5L937.3 1616.4H918.3Z"/>
<path d="M931.9 1599.5L941.4 1616.4H922.4Z"/>
<path d="M935.9 1598.4L945.4 1615.3H926.4Z"/>
<path d="M940 1596.8L949.5 1613.7H930.5Z"/>
<path d="M923 1579.1L932.5 1596H913.5Z"/>
<path d="M935.6 1575.5L945.1 1592.4H926.1Z"/>
<path d="M950.6 1568.3L960.1 1585.2H941.1Z"/>
<path d="M952.4 1588.7L961.9 1605.6H942.9Z"/>
<path d="M941.7 1595.3L951.2 1612.2H932.2Z"/>
<path d="M930 1590.3L939.5 1607.2H920.5Z"/>
</g>
<path d="M256.4 1467.6L209.8 1491.5" stroke="#231f20" stroke-width="4.2" fill="none"/>
<path d="M186.8 1504.6L202.6 1481L217 1502Z" fill="#231f20"/>
<path d="M918.4 1478.4L910.4 1551.2" stroke="#231f20" stroke-width="4.2" fill="none"/>
<path d="M907.2 1577.6L896 1549.6L924.8 1552.8Z" fill="#231f20"/>
<text x="132.5" y="2257.6" font-size="38.6" font-weight="bold" text-anchor="middle" >0</text>
<text x="252.6" y="2257.6" font-size="38.6" font-weight="bold" text-anchor="middle" >5</text>
<text x="372.6" y="2257.6" font-size="38.6" font-weight="bold" text-anchor="middle" >10</text>
<text x="492.7" y="2257.6" font-size="38.6" font-weight="bold" text-anchor="middle" >15</text>
<text x="612.8" y="2257.6" font-size="38.6" font-weight="bold" text-anchor="middle" >20</text>
<text x="732.9" y="2257.6" font-size="38.6" font-weight="bold" text-anchor="middle" >25</text>
<text x="852.9" y="2257.6" font-size="38.6" font-weight="bold" text-anchor="middle" >30</text>
<text x="973" y="2257.6" font-size="38.6" font-weight="bold" text-anchor="middle" >35</text>
<text x="111.3" y="2219.1" font-size="38.6" font-weight="bold" text-anchor="end" >0</text>
<text x="111.3" y="2099.4" font-size="38.6" font-weight="bold" text-anchor="end" >5</text>
<text x="111.3" y="1979.8" font-size="38.6" font-weight="bold" text-anchor="end" >10</text>
<text x="111.3" y="1860.1" font-size="38.6" font-weight="bold" text-anchor="end" >15</text>
<path d="M192.5 2207.3v-9.5M192.5 1788.5v9.5M252.6 2207.3v-18.5M252.6 1788.5v18.5M312.6 2207.3v-9.5M312.6 1788.5v9.5M372.6 2207.3v-18.5M372.6 1788.5v18.5M432.7 2207.3v-9.5M432.7 1788.5v9.5M492.7 2207.3v-18.5M492.7 1788.5v18.5M552.8 2207.3v-9.5M552.8 1788.5v9.5M612.8 2207.3v-18.5M612.8 1788.5v18.5M672.8 2207.3v-9.5M672.8 1788.5v9.5M732.9 2207.3v-18.5M732.9 1788.5v18.5M792.9 2207.3v-9.5M792.9 1788.5v9.5M852.9 2207.3v-18.5M852.9 1788.5v18.5M913 2207.3v-9.5M913 1788.5v9.5M132.5 2147.5h9.5M973 2147.5h-9.5M132.5 2087.6h18.5M973 2087.6h-18.5M132.5 2027.8h9.5M973 2027.8h-9.5M132.5 1968h18.5M973 1968h-18.5M132.5 1908.2h9.5M973 1908.2h-9.5M132.5 1848.3h18.5M973 1848.3h-18.5" stroke="#231f20" stroke-width="4.8" fill="none"/>
<rect x="132.5" y="1788.5" width="840.5" height="418.8" fill="none" stroke="#231f20" stroke-width="4.7"/>
<text x="551.8" y="2317.6" font-size="46" text-anchor="middle" font-weight="bold">Z' <tspan font-weight="normal">(Ω)</tspan></text>
<text transform="translate(38 1997.9) rotate(-90)" font-size="46" text-anchor="middle" font-weight="bold">-Z" <tspan font-weight="normal">(Ω)</tspan></text>
<text x="168.3" y="1853.1" font-size="37.5" font-weight="bold" text-anchor="start" >LiBF<tspan font-size="27" dy="10">4</tspan><tspan dy="-10"> -</tspan><tspan dx="2.5"> Cathode</tspan></text>
<text x="244.8" y="2087.9" font-size="37.5" font-weight="bold" text-anchor="start" >1 kHz</text>
<text x="807" y="2063.9" font-size="37.5" font-weight="bold" text-anchor="start" >1 Hz</text>
<g clip-path="url(#cd)">
<path d="M129.5 2199.5l13 13M129.5 2212.5l13 -13M130.2 2198.3l13 13M130.2 2211.3l13 -13M130.8 2197.1l13 13M130.8 2210.1l13 -13M131.5 2195.9l13 13M131.5 2208.9l13 -13M132.3 2194.8l13 13M132.3 2207.8l13 -13M133.2 2193.8l13 13M133.2 2206.8l13 -13M134.3 2193l13 13M134.3 2206l13 -13M135.5 2192.3l13 13M135.5 2205.3l13 -13M136.8 2191.9l13 13M136.8 2204.9l13 -13M138.1 2191.6l13 13M138.1 2204.6l13 -13M139.5 2191.5l13 13M139.5 2204.5l13 -13M140.8 2191.6l13 13M140.8 2204.6l13 -13M142.2 2191.8l13 13M142.2 2204.8l13 -13M143.5 2192.1l13 13M143.5 2205.1l13 -13M144.8 2192.6l13 13M144.8 2205.6l13 -13M146 2193.3l13 13M146 2206.3l13 -13M146.9 2194.3l13 13M146.9 2207.3l13 -13M147.7 2195.4l13 13M147.7 2208.4l13 -13M148.5 2196.5l13 13M148.5 2209.5l13 -13" fill="none" stroke="#231f20" stroke-width="1.7"/>
<rect x="127.9" y="2201.4" width="13.2" height="13.2"/>
<rect x="128.3" y="2198.9" width="13.2" height="13.2"/>
<rect x="128.7" y="2196.5" width="13.2" height="13.2"/>
<rect x="129.2" y="2194" width="13.2" height="13.2"/>
<rect x="130" y="2191.6" width="13.2" height="13.2"/>
<rect x="130.8" y="2189.3" width="13.2" height="13.2"/>
<rect x="131.8" y="2187" width="13.2" height="13.2"/>
<rect x="132.8" y="2184.7" width="13.2" height="13.2"/>
<rect x="133.9" y="2182.5" width="13.2" height="13.2"/>
<rect x="135.1" y="2180.2" width="13.2" height="13.2"/>
<rect x="136.4" y="2177.8" width="13.2" height="13.2"/>
<rect x="138" y="2175.4" width="13.2" height="13.2"/>
<rect x="139.7" y="2173" width="13.2" height="13.2"/>
<rect x="141.6" y="2170.7" width="13.2" height="13.2"/>
<rect x="143.5" y="2168.4" width="13.2" height="13.2"/>
<rect x="145.5" y="2166.2" width="13.2" height="13.2"/>
<rect x="147.7" y="2164.1" width="13.2" height="13.2"/>
<rect x="149.9" y="2162.1" width="13.2" height="13.2"/>
<rect x="152.3" y="2160.1" width="13.2" height="13.2"/>
<rect x="155" y="2158.2" width="13.2" height="13.2"/>
<rect x="158" y="2156.6" width="13.2" height="13.2"/>
<rect x="161.3" y="2155.2" width="13.2" height="13.2"/>
<rect x="164.8" y="2154" width="13.2" height="13.2"/>
<rect x="168.4" y="2153" width="13.2" height="13.2"/>
<rect x="172.2" y="2152.1" width="13.2" height="13.2"/>
<rect x="176.1" y="2151.5" width="13.2" height="13.2"/>
<rect x="180.1" y="2151.1" width="13.2" height="13.2"/>
<rect x="184.1" y="2150.9" width="13.2" height="13.2"/>
<rect x="188.1" y="2151" width="13.2" height="13.2"/>
<rect x="192.1" y="2151.3" width="13.2" height="13.2"/>
<rect x="196.1" y="2151.6" width="13.2" height="13.2"/>
<rect x="200" y="2152.2" width="13.2" height="13.2"/>
<rect x="203.9" y="2153" width="13.2" height="13.2"/>
<rect x="207.8" y="2154.1" width="13.2" height="13.2"/>
<rect x="211.5" y="2155.4" width="13.2" height="13.2"/>
<rect x="215.2" y="2156.9" width="13.2" height="13.2"/>
<rect x="218.9" y="2158.6" width="13.2" height="13.2"/>
<rect x="222.3" y="2160.5" width="13.2" height="13.2"/>
<rect x="225.5" y="2162.6" width="13.2" height="13.2"/>
<rect x="228.4" y="2164.8" width="13.2" height="13.2"/>
<rect x="231.1" y="2167" width="13.2" height="13.2"/>
<rect x="233.5" y="2169.4" width="13.2" height="13.2"/>
<rect x="235.7" y="2171.8" width="13.2" height="13.2"/>
<rect x="237.7" y="2174.3" width="13.2" height="13.2"/>
<rect x="239.6" y="2176.7" width="13.2" height="13.2"/>
<rect x="241.3" y="2179" width="13.2" height="13.2"/>
<rect x="242.9" y="2181.3" width="13.2" height="13.2"/>
<rect x="244.3" y="2183.6" width="13.2" height="13.2"/>
<rect x="245.6" y="2185.9" width="13.2" height="13.2"/>
<rect x="246.7" y="2188.1" width="13.2" height="13.2"/>
<rect x="247.7" y="2190.4" width="13.2" height="13.2"/>
<rect x="248.6" y="2192.7" width="13.2" height="13.2"/>
<rect x="249.5" y="2195.1" width="13.2" height="13.2"/>
<rect x="250.2" y="2197.5" width="13.2" height="13.2"/>
<rect x="250.6" y="2199.9" width="13.2" height="13.2"/>
<rect x="250.9" y="2202.4" width="13.2" height="13.2"/>
<path d="M124.6 2208h16.8M133 2199.6v16.8M124.9 2205.1h16.8M133.3 2196.7v16.8M125.2 2202.2h16.8M133.6 2193.8v16.8M125.7 2199.4h16.8M134.1 2191v16.8M126.6 2196.3h16.8M135 2187.9v16.8M127.6 2193.1h16.8M136 2184.7v16.8M128.8 2189.5h16.8M137.2 2181.1v16.8M130.2 2185.7h16.8M138.6 2177.3v16.8M131.9 2181.5h16.8M140.3 2173.1v16.8M134 2177h16.8M142.4 2168.6v16.8M136.6 2171.7h16.8M145 2163.3v16.8M140.7 2166h16.8M149.1 2157.6v16.8M146.6 2159.7h16.8M155 2151.3v16.8M153.6 2152.8h16.8M162 2144.4v16.8" fill="none" stroke="#231f20" stroke-width="1.7"/>
<path d="M161.6 2146.4h16.8M170 2138v16.8M169.6 2136.8h16.8M178 2128.4v16.8M180.8 2128.8h16.8M189.2 2120.4v16.8M195.8 2122.4h16.8M204.2 2114v16.8M212.8 2117.6h16.8M221.2 2109.2v16.8M230.4 2116h16.8M238.8 2107.6v16.8M249 2117h16.8M257.4 2108.6v16.8" fill="none" stroke="#231f20" stroke-width="1.7"/>
<path d="M267.2 2119.8h16.8M275.6 2111.4v16.8M278.4 2124.7h16.8M286.8 2116.3v16.8M287.9 2127.9h16.8M296.3 2119.5v16.8M296.7 2130.7h16.8M305.1 2122.3v16.8M305 2134.3h16.8M313.4 2125.9v16.8M313.2 2138.2h16.8M321.6 2129.8v16.8M321.2 2142.4h16.8M329.6 2134v16.8M329.1 2146.7h16.8M337.5 2138.3v16.8M337 2150.9h16.8M345.4 2142.5v16.8M344.7 2154.9h16.8M353.1 2146.5v16.8M352 2159.1h16.8M360.4 2150.7v16.8M359 2163.4h16.8M367.4 2155v16.8M365.7 2167.7h16.8M374.1 2159.3v16.8M371.9 2172.2h16.8M380.3 2163.8v16.8M377.2 2176.8h16.8M385.6 2168.4v16.8M381.6 2181.1h16.8M390 2172.7v16.8M385.2 2185.3h16.8M393.6 2176.9v16.8M388.1 2189.1h16.8M396.5 2180.7v16.8M390.3 2192.3h16.8M398.7 2183.9v16.8M392 2194.8h16.8M400.4 2186.4v16.8M393.4 2196.8h16.8M401.8 2188.4v16.8M394.8 2198.2h16.8M403.2 2189.8v16.8M396.2 2199.3h16.8M404.6 2190.9v16.8M397.7 2200h16.8M406.1 2191.6v16.8M399.2 2200.6h16.8M407.6 2192.2v16.8M400.8 2200.9h16.8M409.2 2192.5v16.8M402.4 2201h16.8M410.8 2192.6v16.8M404 2200.9h16.8M412.4 2192.5v16.8M405.8 2200.5h16.8M414.2 2192.1v16.8M407.6 2200h16.8M416 2191.6v16.8" fill="none" stroke="#231f20" stroke-width="1.7"/>
<path d="M407.6 2189h16.8M416 2180.6v16.8M402 2190.8h16.8M410.4 2182.4v16.8M411.6 2199h16.8M420 2190.6v16.8M396.6 2195h16.8M405 2186.6v16.8M403.6 2196h16.8M412 2187.6v16.8" fill="none" stroke="#231f20" stroke-width="1.7"/>
<path d="M139.6 2146.7L149.1 2163.6H130.1Z"/>
<path d="M136.9 2158.8L146.4 2175.7H127.4Z"/>
<path d="M135.6 2167.8L145.1 2184.7H126.1Z"/>
<path d="M134.8 2174.9L144.3 2191.8H125.3Z"/>
<path d="M134.3 2180.7L143.8 2197.6H124.8Z"/>
<path d="M134.1 2185.7L143.6 2202.6H124.6Z"/>
<path d="M133.9 2189.9L143.4 2206.8H124.4Z"/>
<path d="M133.7 2193.7L143.2 2210.6H124.2Z"/>
<path d="M133.5 2197.1L143 2214H124Z"/>
<path d="M133.4 2200.2L142.9 2217.1H123.9Z"/>
<path d="M133.2 2203.3L142.7 2220.2H123.7Z"/>
<path d="M143.4 2130.7L152.9 2147.6H133.9Z"/>
<path d="M150.8 2113.1L160.3 2130H141.3Z"/>
<path d="M158.8 2093.9L168.3 2110.8H149.3Z"/>
<path d="M171.8 2070.9L181.3 2087.8H162.3Z"/>
<path d="M190 2044L199.5 2060.9H180.5Z"/>
<path d="M212.5 2019.5L222 2036.4H203Z"/>
<path d="M245.6 1991.3L255.1 2008.2H236.1Z"/>
<path d="M286 1967.8L295.5 1984.7H276.5Z"/>
<path d="M333.5 1947.8L343 1964.7H324Z"/>
<path d="M385 1934.3L394.5 1951.2H375.5Z"/>
<path d="M440 1931.8L449.5 1948.7H430.5Z"/>
<path d="M488.5 1938.8L498 1955.7H479Z"/>
<path d="M540 1950.3L549.5 1967.2H530.5Z"/>
<path d="M582.5 1966.3L592 1983.2H573Z"/>
<path d="M617.7 1984.9L627.2 2001.8H608.2Z"/>
<path d="M648.3 2006.2L657.8 2023.1H638.8Z"/>
<path d="M679 2026.3L688.5 2043.2H669.5Z"/>
<path d="M698.8 2041.5L708.3 2058.4H689.3Z"/>
<path d="M720.8 2059.7L730.3 2076.6H711.3Z"/>
<path d="M738.7 2076.5L748.2 2093.4H729.2Z"/>
<path d="M753.9 2092.8L763.4 2109.7H744.4Z"/>
<path d="M766.4 2108L775.9 2124.9H756.9Z"/>
<path d="M774.8 2121.3L784.3 2138.2H765.3Z"/>
<path d="M780.5 2134.6L790 2151.5H771Z"/>
<path d="M787 2147.9L796.5 2164.8H777.5Z"/>
<path d="M791.6 2157.6L801.1 2174.5H782.1Z"/>
<path d="M794.5 2164.9L804 2181.8H785Z"/>
<path d="M796.3 2170.1L805.8 2187H786.8Z"/>
<path d="M798 2173.8L807.5 2190.7H788.5Z"/>
<path d="M800.8 2176L810.3 2192.9H791.3Z"/>
<path d="M804.4 2176L813.9 2192.9H794.9Z"/>
<path d="M807.7 2174.6L817.2 2191.5H798.2Z"/>
<path d="M810.6 2172.5L820.1 2189.4H801.1Z"/>
<path d="M813.3 2170.1L822.8 2187H803.8Z"/>
<path d="M816 2167.5L825.5 2184.4H806.5Z"/>
<path d="M818.8 2164.7L828.3 2181.6H809.3Z"/>
<path d="M834.2 2154.2L843.7 2171.1H824.7Z"/>
<path d="M848.2 2148.6L857.7 2165.5H838.7Z"/>
<path d="M860.1 2141.6L869.6 2158.5H850.6Z"/>
<path d="M874.1 2127.6L883.6 2144.5H864.6Z"/>
<path d="M866 2153.8L875.5 2170.7H856.5Z"/>
<path d="M846.8 2167.3L856.3 2184.2H837.3Z"/>
<path d="M856 2160.3L865.5 2177.2H846.5Z"/>
<path d="M824 2165.8L833.5 2182.7H814.5Z"/>
<path d="M831 2167.3L840.5 2184.2H821.5Z"/>
<path d="M839 2167.8L848.5 2184.7H829.5Z"/>
</g>
<path d="M229.8 2084L176.6 2122.3" stroke="#231f20" stroke-width="4.2" fill="none"/>
<path d="M155 2138L168.6 2112.2L184.5 2132.5Z" fill="#231f20"/>
<path d="M833.7 2083L813.8 2127.1" stroke="#231f20" stroke-width="4.2" fill="none"/>
<path d="M805.2 2150.6L800.6 2121L826.9 2133.2Z" fill="#231f20"/>
<text x="17" y="45" font-size="52" font-weight="bold" fill="#3a3a3c">a</text>
<text x="16.5" y="588" font-size="55" font-weight="bold" fill="#3a3a3c">b</text>
<text x="17" y="1169" font-size="52" font-weight="bold" fill="#3a3a3c">c</text>
<text x="17" y="1770" font-size="55" font-weight="bold" fill="#3a3a3c">d</text>
</g>
</svg></body></html>
